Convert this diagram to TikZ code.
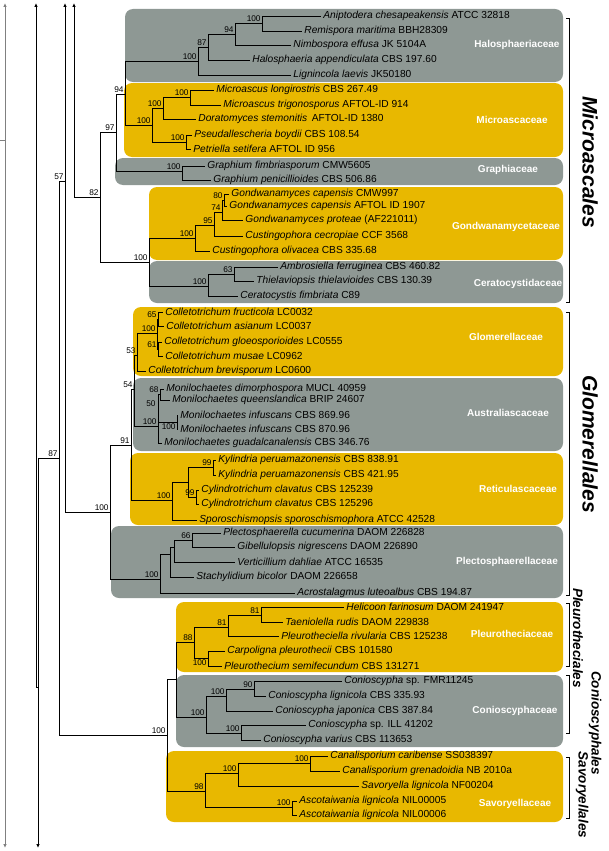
\documentclass[tikz,border=0pt]{standalone}
\usepackage{fontspec}
\setmainfont{Liberation Sans}
\usetikzlibrary{arrows.meta}
\definecolor{famgrey}{RGB}{142,152,148}
\definecolor{famyel}{RGB}{232,184,0}
\newcommand\inode[4]{\coordinate (#1) at (#2,#3); \node[bs] at (#1) {#4};}
\newcommand\tleaf[2]{\draw (#1) |- ([xshift=-2pt]#2.west);}
\newcommand\tbranch[2]{\draw (#1) |- (#2);}
\begin{document}
\begin{tikzpicture}[x=1pt,y=-1pt,line width=0.8pt,
  leaf/.style={anchor=west,inner sep=0pt,font=\fontsize{10.2}{10}\selectfont},
  bs/.style={anchor=south east,inner sep=1pt,font=\fontsize{8.3}{8}\selectfont},
  gbox/.style={fill=famgrey,rounded corners=8pt},
  ybox/.style={fill=famyel,rounded corners=8pt},
  fam/.style={text=white,font=\fontsize{10}{10}\bfseries\selectfont},
  ord/.style={rotate=-90,font=\bfseries\itshape},
  tip/.style={-{Latex[length=4pt,width=3.5pt]}}]
\useasboundingbox (0,0) rectangle (608,851);
% family boxes
\fill[gbox] (125,9) rectangle (563,82);
\fill[ybox] (124,83) rectangle (563,157);
\fill[gbox] (115,158) rectangle (563,185);
\fill[ybox] (149,187) rectangle (563,260);
\fill[gbox] (149,261) rectangle (563,303);
\fill[ybox] (133,307) rectangle (563,376);
\fill[gbox] (133,378) rectangle (563,451);
\fill[ybox] (130,453) rectangle (563,525);
\fill[gbox] (111,526) rectangle (563,598);
\fill[ybox] (176,602) rectangle (563,672);
\fill[gbox] (176,675) rectangle (563,747);
\fill[ybox] (166,751) rectangle (563,822);
\node[fam] at (517,45) {Halosphaeriaceae};
\node[fam] at (512,120) {Microascaceae};
\node[fam] at (508,170) {Graphiaceae};
\node[fam] at (506,227) {Gondwanamycetaceae};
\node[fam] at (518,284) {Ceratocystidaceae};
\node[fam] at (506,337) {Glomerellaceae};
\node[fam] at (508,413) {Australiascaceae};
\node[fam] at (518,489) {Reticulascaceae};
\node[fam] at (507,562) {Plectosphaerellaceae};
\node[fam] at (512,634) {Pleurotheciaceae};
\node[fam] at (515,711) {Conioscyphaceae};
\node[fam] at (515,804) {Savoryellaceae};
% order brackets
\draw (566,18) -- (569,18) -- (569,302) -- (566,302);
\draw (566,312) -- (569,312) -- (569,595) -- (566,595);
\draw (566,603) -- (569,603) -- (569,666) -- (566,666);
\draw (566,675) -- (569,675) -- (569,733) -- (566,733);
\draw (566,757) -- (569,757) -- (569,818) -- (566,818);
\node[ord,font=\fontsize{21}{21}\bfseries\itshape\selectfont] at (590,162) {Microascales};
\node[ord,font=\fontsize{21}{21}\bfseries\itshape\selectfont] at (590,444) {Glomerellales};
\node[ord,font=\fontsize{13.5}{13}\bfseries\itshape\selectfont] at (578,638) {Pleurotheciales};
\node[ord,font=\fontsize{13.5}{13}\bfseries\itshape\selectfont] at (595,723) {Conioscyphales};
\node[ord,font=\fontsize{13.5}{13}\bfseries\itshape\selectfont] at (582,795) {Savoryellales};
% leaves
\node[leaf] (Ani) at (323,16) {\textit{Aniptodera chesapeakensis} ATCC 32818};
\node[leaf] (Rem) at (304,31) {\textit{Remispora maritima} BBH28309};
\node[leaf] (Nim) at (293,45) {\textit{Nimbospora effusa} JK 5104A};
\node[leaf] (Hal) at (252,60) {\textit{Halosphaeria appendiculata} CBS 197.60};
\node[leaf] (Lig) at (293,75) {\textit{Lignincola laevis} JK50180};
\node[leaf] (ML) at (216,90) {\textit{Microascus longirostris} CBS 267.49};
\node[leaf] (MT) at (223,105) {\textit{Microascus trigonosporus} AFTOL-ID 914};
\node[leaf] (Dor) at (198,119) {\textit{Doratomyces stemonitis}\, AFTOL-ID 1380};
\node[leaf] (Pse) at (194,135) {\textit{Pseudallescheria boydii} CBS 108.54};
\node[leaf] (Pet) at (193,149) {\textit{Petriella setifera} AFTOL ID 956};
\node[leaf] (GF) at (207,166) {\textit{Graphium fimbriasporum} CMW5605};
\node[leaf] (GP) at (213,180) {\textit{Graphium penicillioides} CBS 506.86};
\node[leaf] (GC1) at (231,194) {\textit{Gondwanamyces capensis} CMW997};
\node[leaf] (GC2) at (229,206) {\textit{Gondwanamyces capensis} AFTOL ID 1907};
\node[leaf] (GPr) at (245,220) {\textit{Gondwanamyces proteae} (AF221011)};
\node[leaf] (CC) at (245,236) {\textit{Custingophora cecropiae} CCF 3568};
\node[leaf] (CO) at (212,251) {\textit{Custingophora olivacea} CBS 335.68};
\node[leaf] (Amb) at (280,267) {\textit{Ambrosiella ferruginea} CBS 460.82};
\node[leaf] (Thi) at (256,281) {\textit{Thielaviopsis thielavioides} CBS 130.39};
\node[leaf] (Cer) at (240,296) {\textit{Ceratocystis fimbriata} C89};
\node[leaf] (Cf) at (165,312) {\textit{Colletotrichum fructicola} LC0032};
\node[leaf] (Ca) at (166,326) {\textit{Colletotrichum asianum} LC0037};
\node[leaf] (Cg) at (164,342) {\textit{Colletotrichum gloeosporioides} LC0555};
\node[leaf] (Cm) at (165,356) {\textit{Colletotrichum musae} LC0962};
\node[leaf] (Cb) at (148,371) {\textit{Colletotrichum brevisporum} LC0600};
\node[leaf] (Md) at (166,389) {\textit{Monilochaetes dimorphospora} MUCL 40959};
\node[leaf] (Mq) at (172,400) {\textit{Monilochaetes queenslandica} BRIP 24607};
\node[leaf] (Mi1) at (180,415) {\textit{Monilochaetes infuscans} CBS 869.96};
\node[leaf] (Mi2) at (180,429) {\textit{Monilochaetes infuscans} CBS 870.96};
\node[leaf] (Mg) at (164,443) {\textit{Monilochaetes guadalcanalensis} CBS 346.76};
\node[leaf] (K1) at (218,460) {\textit{Kylindria peruamazonensis} CBS 838.91};
\node[leaf] (K2) at (218,475) {\textit{Kylindria peruamazonensis} CBS 421.95};
\node[leaf] (Cy1) at (201,490) {\textit{Cylindrotrichum clavatus} CBS 125239};
\node[leaf] (Cy2) at (201,504) {\textit{Cylindrotrichum clavatus} CBS 125296};
\node[leaf] (Sp) at (199,520) {\textit{Sporoschismopsis sporoschismophora} ATCC 42528};
\node[leaf] (Pc) at (223,533) {\textit{Plectosphaerella cucumerina} DAOM 226828};
\node[leaf] (Gn) at (237,547) {\textit{Gibellulopsis nigrescens} DAOM 226890};
\node[leaf] (Vd) at (237,562) {\textit{Verticillium dahliae} ATCC 16535};
\node[leaf] (Sb) at (196,577) {\textit{Stachylidium bicolor} DAOM 226658};
\node[leaf] (Al) at (297,593) {\textit{Acrostalagmus luteoalbus} CBS 194.87};
\node[leaf] (He) at (346,607) {\textit{Helicoon farinosum} DAOM 241947};
\node[leaf] (Ta) at (285,622) {\textit{Taeniolella rudis} DAOM 229838};
\node[leaf] (Pr) at (281,636) {\textit{Pleurotheciella rivularia} CBS 125238};
\node[leaf] (Cp) at (227,651) {\textit{Carpoligna pleurothecii} CBS 101580};
\node[leaf] (Ps2) at (224,666) {\textit{Pleurothecium semifecundum} CBS 131271};
\node[leaf] (KF) at (344,681) {\textit{Conioscypha} sp. FMR11245};
\node[leaf] (KL) at (268,696) {\textit{Conioscypha lignicola} CBS 335.93};
\node[leaf] (KJ) at (275,711) {\textit{Conioscypha japonica} CBS 387.84};
\node[leaf] (KI) at (308,725) {\textit{Conioscypha} sp. ILL 41202};
\node[leaf] (KV) at (263,740) {\textit{Conioscypha varius} CBS 113653};
\node[leaf] (Cc) at (330,756) {\textit{Canalisporium caribense} SS038397};
\node[leaf] (Cgr) at (342,771) {\textit{Canalisporium grenadoidia} NB 2010a};
\node[leaf] (Sl) at (361,786) {\textit{Savoryella lignicola} NF00204};
\node[leaf] (A1) at (299,801) {\textit{Ascotaiwania lignicola} NIL00005};
\node[leaf] (A2) at (299,815) {\textit{Ascotaiwania lignicola} NIL00006};
% internal nodes
\inode{h100}{262}{23}{100} \inode{h94}{235}{34}{94} \inode{h87}{208}{47}{87}
\inode{hHa}{198}{61}{100} \inode{nMA}{125}{94}{94}
\inode{m1}{190}{97}{100} \inode{m2}{163}{108}{100} \inode{m3}{152}{125}{100}
\inode{mP}{186}{142}{100} \inode{n97}{116}{132}{97} \inode{nG}{182}{171}{100}
\inode{n82}{100}{197}{82} \inode{nGC}{149}{262}{100} \inode{nGo}{195}{238}{100}
\inode{g95}{214}{225}{95} \inode{g74}{222}{212}{74} \inode{g80}{224}{200}{80}
\inode{nCe}{208}{286}{100} \inode{c63}{234}{274}{63}
\inode{g100}{110}{512}{100} \inode{n91}{131}{445}{91} \inode{n54}{134}{389}{54}
\inode{n53}{137}{355}{53} \inode{c100}{157}{333}{100} \inode{c65}{158}{319}{65}
\inode{c61}{158}{349}{61} \inode{a100}{158}{426}{100} \inode{a68}{160}{394}{68}
\coordinate (ainf) at (177,422);
\node[bs,anchor=north east] at (ainf) {100};
\node[bs,anchor=east] at (157,404) {50};
\inode{r100}{172}{500}{100} \coordinate (rA) at (188,482);
\inode{rK}{213}{467}{99} \inode{rC}{196}{497}{99}
\inode{p100}{160}{579}{100} \coordinate (pS) at (170,554);
\coordinate (pV) at (174,547); \inode{p66}{192}{540}{66}
\inode{nL}{167}{735}{100} \coordinate (nPC) at (176,679);
\inode{q88}{194}{642}{88} \inode{q81}{228}{627}{81} \inode{q81b}{261}{615}{81}
\coordinate (q100) at (208,658); \node[bs,anchor=north east] at (q100) {100};
\inode{k100}{206}{717}{100} \inode{k2}{226}{696}{100} \inode{k90}{254}{689}{90}
\inode{k3}{241}{733}{100}
\inode{s98}{205}{791}{98} \inode{s100}{238}{773}{100} \inode{s100c}{310}{763}{100}
\inode{s100a}{292}{807}{100}
% Microascales branches
\tleaf{h100}{Ani} \tleaf{h100}{Rem} \tbranch{h94}{h100} \tleaf{h94}{Nim}
\tbranch{h87}{h94} \tleaf{h87}{Hal} \tbranch{hHa}{h87} \tleaf{hHa}{Lig}
\tbranch{nMA}{hHa} \tbranch{nMA}{m3}
\tleaf{m1}{ML} \tleaf{m1}{MT} \tbranch{m2}{m1} \tleaf{m2}{Dor}
\tbranch{m3}{m2} \tbranch{m3}{mP} \tleaf{mP}{Pse} \tleaf{mP}{Pet}
\tbranch{n97}{nMA} \tbranch{n97}{nG} \tleaf{nG}{GF} \tleaf{nG}{GP}
\tbranch{n82}{n97} \tbranch{n82}{nGC}
\tleaf{g80}{GC1} \tleaf{g80}{GC2} \tbranch{g74}{g80} \tleaf{g74}{GPr}
\tbranch{g95}{g74} \tleaf{g95}{CC} \tbranch{nGo}{g95} \tleaf{nGo}{CO}
\tbranch{nGC}{nGo} \tbranch{nGC}{nCe}
\tleaf{c63}{Amb} \tleaf{c63}{Thi} \tbranch{nCe}{c63} \tleaf{nCe}{Cer}
% Glomerellales branches
\tleaf{c65}{Cf} \tleaf{c65}{Ca} \tleaf{c61}{Cg} \tleaf{c61}{Cm}
\tbranch{c100}{c65} \tbranch{c100}{c61} \tbranch{n53}{c100} \tleaf{n53}{Cb}
\tleaf{a68}{Md} \tleaf{a68}{Mq} \tleaf{ainf}{Mi1} \tleaf{ainf}{Mi2}
\tbranch{a100}{a68} \tbranch{a100}{ainf} \tleaf{a100}{Mg}
\tbranch{n54}{n53} \tbranch{n54}{a100}
\tleaf{rK}{K1} \tleaf{rK}{K2} \tleaf{rC}{Cy1} \tleaf{rC}{Cy2}
\tbranch{rA}{rK} \tbranch{rA}{rC} \tbranch{r100}{rA} \tleaf{r100}{Sp}
\tbranch{n91}{n54} \tbranch{n91}{r100}
\tleaf{p66}{Pc} \tleaf{p66}{Gn} \tbranch{pV}{p66} \tleaf{pV}{Vd}
\tbranch{pS}{pV} \tleaf{pS}{Sb} \tbranch{p100}{pS} \tleaf{p100}{Al}
\tbranch{g100}{n91} \tbranch{g100}{p100}
% lower orders
\tleaf{q81b}{He} \tleaf{q81b}{Ta} \tbranch{q81}{q81b} \tleaf{q81}{Pr}
\tleaf{q100}{Cp} \tleaf{q100}{Ps2} \tbranch{q88}{q81} \tbranch{q88}{q100}
\tleaf{k90}{KF} \tleaf{k90}{KL} \tbranch{k2}{k90} \tleaf{k2}{KJ}
\tleaf{k3}{KI} \tleaf{k3}{KV} \tbranch{k100}{k2} \tbranch{k100}{k3}
\tbranch{nPC}{q88} \tbranch{nPC}{k100}
\tleaf{s100c}{Cc} \tleaf{s100c}{Cgr} \tbranch{s100}{s100c} \tleaf{s100}{Sl}
\tleaf{s100a}{A1} \tleaf{s100a}{A2} \tbranch{s98}{s100} \tbranch{s98}{s100a}
\tbranch{nL}{nPC} \tbranch{nL}{s98}
% backbone and truncated long branches
\draw[gray,tip] (5,140) -- (5,3);
\draw[gray,tip] (5,140) -- (5,848);
\draw[gray] (0,140) -- (5,140);
\draw[tip] (36,687) -- (36,3);
\draw (36,687) -- (38,687);
\draw[tip] (38,458) -- (38,848);
\draw (38,458) -- (59,458);
\node[bs] at (59,458) {87};
\draw (59,181) -- (59,735) -- (nL);
\draw (59,181) -- (65,181);
\node[bs] at (65,181) {57};
\draw[tip] (65,512) -- (65,3);
\draw (65,512) -- (g100);
\draw[tip] (n82) -- (74,197) -- (74,3);
\end{tikzpicture}
\end{document}
